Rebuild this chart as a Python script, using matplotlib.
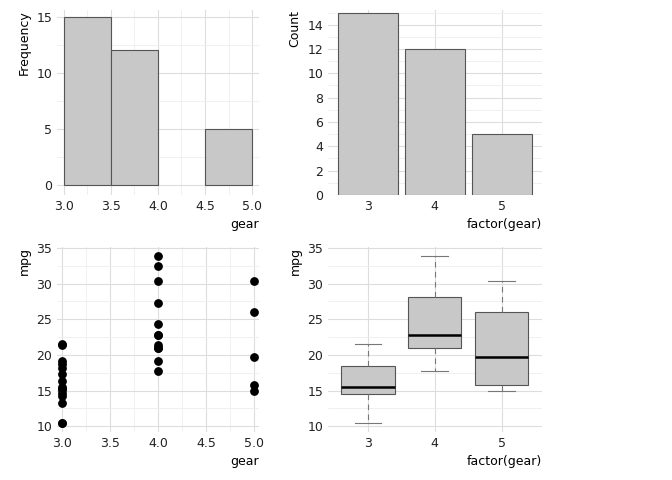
import matplotlib.pyplot as plt
from matplotlib.ticker import MultipleLocator

mpg3 = [21.4, 18.7, 18.1, 14.3, 16.4, 17.3, 15.2, 10.4, 10.4, 14.7, 21.5, 15.5, 15.2, 13.3, 19.2]
mpg4 = [21.0, 21.0, 22.8, 24.4, 22.8, 19.2, 17.8, 32.4, 30.4, 33.9, 27.3, 21.4]
mpg5 = [26.0, 30.4, 15.8, 19.7, 15.0]
gears = [3, 4, 5]
hist_edges = [3.0, 3.5, 4.0, 4.5, 5.0]
hist_counts = [15, 12, 0, 5]

fig = plt.figure(figsize=(6.72, 4.8), dpi=100)
ax1 = fig.add_axes([0.085, 0.594, 0.30, 0.385])
ax2 = fig.add_axes([0.488, 0.594, 0.318, 0.385])
ax3 = fig.add_axes([0.085, 0.1, 0.30, 0.385])
ax4 = fig.add_axes([0.488, 0.1, 0.318, 0.385])

def style(ax, xlabel, ylabel):
    for s in ax.spines.values():
        s.set_visible(False)
    ax.set_axisbelow(True)
    ax.grid(which='major', color='#dddddd', linewidth=0.8)
    ax.grid(which='minor', color='#eeeeee', linewidth=0.6)
    ax.tick_params(which='both', length=0, labelsize=9, colors='#222222')
    ax.set_xlabel(xlabel, fontsize=9, loc='right')
    ax.set_ylabel(ylabel, fontsize=9, loc='top')

# histogram
for i, c in enumerate(hist_counts):
    if c > 0:
        ax1.bar(hist_edges[i], c, width=0.5, align='edge', color='#c8c8c8', edgecolor='#555555', linewidth=0.8)
ax1.set_xlim(2.93, 5.07)
ax1.set_ylim(-0.9, 15.6)
ax1.xaxis.set_major_locator(MultipleLocator(0.5))
ax1.xaxis.set_minor_locator(MultipleLocator(0.25))
ax1.yaxis.set_major_locator(MultipleLocator(5))
ax1.yaxis.set_minor_locator(MultipleLocator(2.5))
ax1.set_xticklabels([]) if False else None
ax1.xaxis.set_major_formatter(plt.FormatStrFormatter('%.1f'))
style(ax1, 'gear', 'Frequency')

# bar chart
counts = [len(mpg3), len(mpg4), len(mpg5)]
ax2.bar([1, 2, 3], counts, width=0.9, color='#c8c8c8', edgecolor='#555555', linewidth=0.8)
ax2.set_xlim(0.4, 3.6)
ax2.set_ylim(0, 15.2)
ax2.set_xticks([1, 2, 3])
ax2.set_xticklabels([str(g) for g in gears])
ax2.yaxis.set_major_locator(MultipleLocator(2))
ax2.yaxis.set_minor_locator(MultipleLocator(1))
style(ax2, 'factor(gear)', 'Count')

# scatter
for g, vals in zip(gears, [mpg3, mpg4, mpg5]):
    ax3.scatter([g] * len(vals), vals, color='black', s=28, zorder=3)
ax3.set_xlim(2.95, 5.05)
ax3.set_ylim(9.2, 35.1)
ax3.xaxis.set_major_locator(MultipleLocator(0.5))
ax3.xaxis.set_minor_locator(MultipleLocator(0.25))
ax3.xaxis.set_major_formatter(plt.FormatStrFormatter('%.1f'))
ax3.yaxis.set_major_locator(MultipleLocator(5))
ax3.yaxis.set_minor_locator(MultipleLocator(2.5))
style(ax3, 'gear', 'mpg')

# boxplot
ax4.boxplot([mpg3, mpg4, mpg5], positions=[1, 2, 3], widths=0.8, patch_artist=True,
            boxprops=dict(facecolor='#c8c8c8', edgecolor='#555555', linewidth=0.8),
            medianprops=dict(color='black', linewidth=1.8),
            whiskerprops=dict(color='#777777', linestyle=(0, (5, 4)), linewidth=0.8),
            capprops=dict(color='#777777', linewidth=0.8),
            flierprops=dict(marker='o', markerfacecolor='none', markeredgecolor='black'))
for cap in ax4.lines:
    pass
ax4.set_xlim(0.4, 3.6)
ax4.set_ylim(9.2, 35.1)
ax4.set_xticks([1, 2, 3])
ax4.set_xticklabels([str(g) for g in gears])
ax4.yaxis.set_major_locator(MultipleLocator(5))
ax4.yaxis.set_minor_locator(MultipleLocator(2.5))
style(ax4, 'factor(gear)', 'mpg')

fig.savefig('out.png', dpi=100)
